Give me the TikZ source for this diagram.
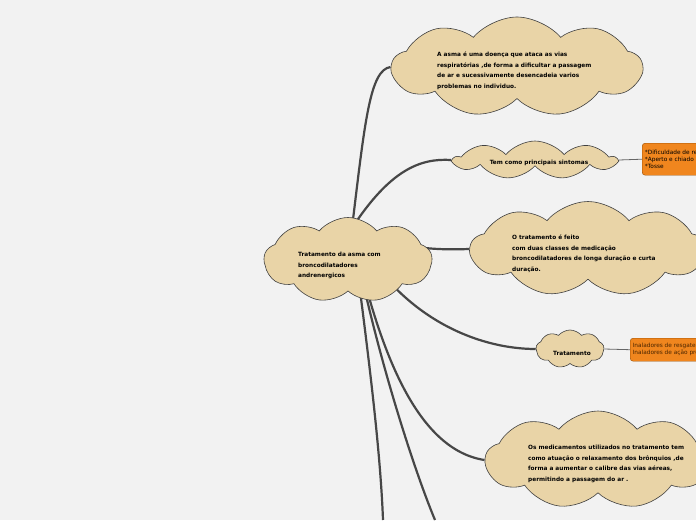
\documentclass[tikz,border=0pt]{standalone}
\usepackage{fontspec}
\setmainfont{DejaVu Sans}
\usetikzlibrary{shapes.symbols}
\begin{document}
\begin{tikzpicture}[x=1pt,y=-1pt,
 cl/.style={cloud,cloud puffs=9,cloud puff arc=100,cloud ignores aspect,draw=black!75,fill=cloudc,line width=0.6pt},
 tx/.style={font=\bfseries\fontsize{5.8}{10.5}\selectfont,align=left,anchor=north west,inner sep=0},
 br/.style={draw=black!72,line width=2.2pt},
 th/.style={draw=black!60,line width=0.8pt},
 ob/.style={draw=orange!60!black,fill=orangec,rounded corners=3pt,anchor=north west,minimum width=80pt,inner sep=2.5pt,font=\fontsize{5.8}{7}\selectfont,align=left}]
\definecolor{cloudc}{HTML}{E9D4A7}
\definecolor{orangec}{HTML}{F0861E}
\useasboundingbox (0,0) rectangle (696,520);
\clip (0,0) rectangle (696,520);
\fill[black!5] (0,0) rectangle (696,520);
\coordinate (o) at (352,228);
\coordinate (d1) at (383,520);
\coordinate (d2) at (435,520);
\node[cl,minimum width=250,minimum height=100] (c1) at (517,67) {};
\node[cl,minimum width=162,minimum height=38] (c2) at (535,160) {};
\node[cl,minimum width=235,minimum height=95] (c3) at (588,249) {};
\node[cl,minimum width=68,minimum height=38] (c4) at (570,349) {};
\node[cl,minimum width=225,minimum height=98] (c5) at (598,460) {};
\draw[br] (o) .. controls (365,120) and (370,70) .. (c1.west);
\draw[br] (o) .. controls (390,170) and (420,158) .. (c2.west);
\draw[br] (o) .. controls (400,250) and (440,250) .. (c3.west);
\draw[br] (o) .. controls (400,320) and (480,349) .. (c4.west);
\draw[br] (o) .. controls (380,360) and (420,450) .. (c5.west);
\draw[br] (o) .. controls (365,330) and (380,440) .. (d1);
\draw[br] (o) .. controls (370,330) and (410,460) .. (d2);
\node[cl,minimum width=168,minimum height=85] (c0) at (348,260) {};
\node[tx] (t0) at (298,252) {Tratamento da asma com\\broncodilatadores\\andrenergicos};
\node[tx] (t1) at (437,52) {A asma é uma doença que ataca as vias\\respiratórias ,de forma a dificultar a passagem\\de ar e sucessivamente desencadeia varios\\problemas no individuo.};
\node[tx,anchor=center] (t2) at (539,163) {Tem como principais sintomas};
\node[tx] (t3) at (512,235) {O tratamento é feito\\com duas classes de medicação\\broncodilatadores de longa duração e curta\\duração.};
\node[tx,anchor=center] (t4) at (572,353) {Tratamento};
\node[tx] (t5) at (528,445) {Os medicamentos utilizados no tratamento tem\\como atuação o relaxamento dos brônquios ,de\\forma a aumentar o calibre das vias aéreas,\\permitindo a passagem do ar .};
\node[ob,minimum height=32] (o1) at (642,143) {*Dificuldade de respirar\\*Aperto e chiado no peito\\*Tosse};
\node[ob,minimum height=23,text=black!70!orange] (o2) at (630,338) {Inaladores de resgate\\Inaladores de ação prolongada};
\draw[th] (c2.east) -- (o1.west);
\draw[th] (c4.east) -- (o2.west);
\end{tikzpicture}
\end{document}
